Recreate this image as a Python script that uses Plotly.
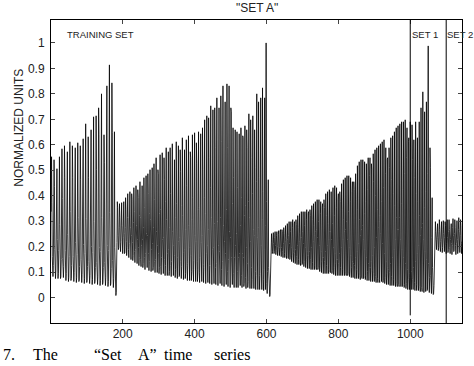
import plotly.graph_objects as go

# Laser intensity samples (8-bit digitiser counts)
burst_1 = [
    86, 141, 95, 41, 22, 21, 32, 72,
    138, 111, 48, 23, 19, 27, 59, 129,
    129, 58, 27, 19, 24, 47, 112, 141,
    73, 30, 19, 21, 38, 91, 149, 99,
    39, 20, 20, 31, 73, 152, 120, 47,
    21, 17, 24, 56, 137, 146, 63, 24,
    16, 20, 41, 110, 156, 86, 30, 17,
    19, 32, 81, 152, 120, 41, 18, 16,
    25, 59, 143, 150, 55, 21, 15, 20,
    43, 121, 155, 80, 27, 16, 17, 31,
    87, 152, 118, 38, 17, 15, 23, 62,
    150, 159, 53, 20, 14, 19, 44, 130,
    174, 79, 26, 15, 17, 31, 92, 161,
    120, 36, 16, 14, 22, 64, 150, 168,
    51, 19, 13, 18, 45, 139, 181, 76,
    24, 14, 16, 30, 96, 182, 128, 35,
    15, 13, 21, 66, 190, 163, 50, 18,
    12, 17, 46, 150, 204, 80, 23, 13,
    15, 30, 101, 163, 135, 35, 14, 12,
    20, 68, 196, 212, 52, 17, 11, 16,
    47, 160, 233, 85, 22, 12, 14, 29,
    105, 215, 165, 37, 13, 10, 19, 70,
    166, 50, 8, 3,
]

burst_2 = [
    2, 5, 18, 55, 96, 90, 62, 48,
    50, 70, 94, 80, 55, 46, 56, 82,
    95, 72, 48, 44, 60, 90, 96, 64,
    44, 45, 70, 100, 88, 56, 42, 50,
    80, 104, 80, 48, 40, 54, 90, 106,
    70, 42, 38, 62, 104, 98, 55, 37,
    42, 75, 110, 86, 46, 35, 48, 92,
    112, 72, 38, 34, 58, 108, 100, 50,
    32, 40, 82, 116, 80, 38, 31, 52,
    104, 112, 58, 30, 34, 70, 120, 90,
    40, 28, 44, 98, 122, 64, 30, 30,
    62, 124, 104, 44, 27, 36, 84, 128,
    78, 33, 26, 48, 112, 130, 54, 27,
    30, 70, 134, 98, 36, 25, 38, 98,
    140, 66, 28, 25, 52, 128, 124, 44,
    24, 30, 84, 143, 88, 31, 23, 40,
    112, 145, 58, 25, 24, 60, 140, 118,
    38, 22, 32, 96, 150, 78, 27, 22,
    44, 126, 146, 48, 22, 26, 70, 150,
    104, 32, 21, 36, 108, 154, 66, 24,
    22, 52, 138, 138, 42, 20, 28, 80,
    156, 94, 29, 19, 40, 120, 152, 56,
    21, 22, 60, 148, 126, 36, 19, 31,
    92, 160, 82, 26, 18, 45, 132, 148,
    48, 19, 24, 68, 158, 112, 32, 17,
    34, 104, 162, 72, 23, 17, 50, 146,
    140, 42, 17, 26, 78, 163, 100, 28,
    16, 37, 116, 165, 62, 21, 16, 56,
    155, 134, 36, 16, 28, 88, 166, 90,
    25, 15, 40, 128, 164, 55, 19, 16,
    62, 170, 128, 33, 15, 30, 100, 178,
    84, 23, 14, 44, 142, 182, 52, 17,
    15, 68, 180, 140, 32, 14, 32, 110,
    192, 80, 21, 13, 48, 158, 188, 50,
    16, 14, 74, 190, 150, 30, 13, 34,
    120, 200, 76, 20, 12, 52, 170, 190,
    46, 15, 14, 80, 202, 156, 28, 12,
    36, 130, 212, 72, 18, 11, 56, 182,
    196, 44, 14, 13, 88, 214, 150, 26,
    11, 38, 140, 212, 66, 16, 10, 60,
    190, 186, 40, 13, 13, 94, 170, 120,
    24, 10, 40, 150, 168, 52, 14, 10,
    64, 166, 110, 26, 10, 40, 156, 164,
    44, 12, 12, 72, 170, 100, 22, 10,
    44, 162, 160, 40, 11, 14, 82, 172,
    92, 20, 9, 50, 168, 150, 34, 10,
    16, 96, 184, 80, 17, 9, 56, 178,
    140, 30, 9, 18, 104, 182, 68, 15,
    9, 62, 168, 130, 26, 8, 22, 116,
    204, 60, 13, 8, 70, 196, 120, 22,
    8, 24, 126, 200, 52, 11, 8, 78,
    210, 106, 18, 7, 28, 140, 200, 48,
    8, 72, 255, 96, 14, 4, 26, 110,
    118, 30, 4, 1, 1, 3, 14, 40,
]

burst_3 = [
    58, 64, 55, 44, 46, 58, 65, 54,
    44, 46, 60, 66, 52, 43, 47, 62,
    66, 51, 42, 48, 63, 67, 50, 42,
    50, 66, 68, 48, 41, 50, 68, 66,
    46, 40, 54, 70, 64, 44, 40, 56,
    72, 60, 42, 39, 59, 74, 58, 40,
    39, 62, 76, 54, 38, 40, 66, 76,
    50, 36, 42, 70, 78, 48, 35, 45,
    74, 76, 44, 34, 48, 78, 73, 41,
    33, 52, 82, 70, 38, 33, 56, 84,
    64, 35, 32, 60, 86, 60, 33, 34,
    66, 86, 54, 31, 36, 72, 86, 50,
    30, 38, 78, 88, 46, 29, 42, 84,
    86, 42, 29, 46, 88, 82, 38, 28,
    50, 92, 78, 35, 28, 56, 94, 72,
    32, 28, 62, 96, 66, 30, 28, 68,
    98, 60, 28, 30, 76, 98, 52, 26,
    32, 84, 96, 46, 25, 36, 90, 94,
    40, 24, 40, 98, 90, 36, 24, 46,
    104, 82, 32, 24, 52, 106, 74, 28,
    24, 58, 108, 66, 26, 25, 66, 106,
    58, 24, 27, 74, 110, 50, 23, 30,
    82, 112, 44, 22, 34, 90, 110, 38,
    22, 38, 98, 104, 34, 22, 44, 106,
    96, 30, 22, 50, 114, 88, 28, 22,
    58, 118, 78, 26, 22, 66, 120, 68,
    24, 22, 76, 122, 58, 22, 24, 86,
    122, 50, 21, 26, 96, 120, 42, 20,
    30, 106, 116, 36, 20, 34, 116, 108,
    32, 19, 40, 124, 98, 28, 19, 46,
    132, 88, 25, 19, 54, 136, 78, 22,
    18, 62, 138, 68, 20, 19, 72, 138,
    58, 19, 20, 84, 136, 48, 18, 22,
    96, 134, 40, 17, 26, 108, 140, 34,
    17, 30, 122, 140, 30, 16, 36, 134,
    128, 27, 16, 42, 144, 116, 24, 16,
    50, 148, 102, 21, 15, 60, 150, 88,
    19, 15, 70, 152, 76, 18, 15, 82,
    154, 64, 16, 16, 96, 156, 54, 15,
    17, 110, 158, 44, 14, 20, 124, 150,
    36, 13, 24, 138, 140, 30, 13, 28,
    150, 130, 25, 12, 34, 160, 118, 21,
    12, 40, 162, 104, 18, 12, 48, 166,
    92, 16, 11, 58, 170, 80, 14, 11,
    68, 172, 68, 13, 11, 80, 174, 58,
    12, 11, 94, 176, 48, 11, 12, 108,
    176, 40, 10, 13, 124, 178, 34, 9,
    14, 140, 170, 28, 8, 18, 156, 160,
    24, 8, 20, 176, 150, 20, 8, 26,
    173, 138, 18, 8, 30, 158, 120, 15,
    7, 36, 176, 104, 13, 7, 44, 160,
    96, 12, 7, 52, 176, 82, 11, 6,
    62, 190, 70, 10, 6, 74, 206, 58,
    9, 5, 90, 186, 46, 8, 6, 106,
    196, 38, 7, 8, 124, 252, 34, 6,
    5, 20, 150, 130, 22, 5, 4, 60,
    100, 30, 6, 3, 4, 12, 40, 66,
]

tail = [
    70, 76, 66, 52, 48, 58, 72, 74,
    60, 47, 50, 66, 78, 68, 50, 46,
    56, 74, 76, 58, 45, 50, 68, 77,
    64, 48, 46, 60, 76, 72, 52, 44,
    54, 72, 78, 60, 45, 48, 66, 78,
    68, 50, 44, 58, 74, 74, 54, 43,
    52, 70, 79, 62, 46, 47, 64, 78,
    70, 52, 43, 54, 74, 77, 58, 44,
    48, 68, 80, 66, 47, 45, 62, 78,
    72, 54, 44, 56,
]

full_scale = 255
x_ticks = [200, 400, 600, 800, 1000]
y_ticks = [0, 0.1, 0.2, 0.3, 0.4, 0.5, 0.6, 0.7, 0.8, 0.9, 1]
y_tick_text = ["0", "0.1", "0.2", "0.3", "0.4", "0.5", "0.6", "0.7", "0.8", "0.9", "1"]
set_bounds = [1000, 1100]
set_labels = ["TRAINING SET", "SET 1", "SET 2"]
set_label_x = [41, 1003, 1100]
caption_words = ["7.", "The", "\u201cSet", "A\u201d", "time", "series"]
caption_px = [2, 32, 93, 137, 163, 213]

counts = burst_1 + burst_2 + burst_3 + tail
time_steps = list(range(1, len(counts) + 1))
values = [c / full_scale for c in counts]

font_family = "Liberation Sans, Arial, sans-serif"
ink = "#222222"
W, H = 474, 366
ML, MR, MT, MB = 51, 12, 20, 43

fig = go.Figure()
fig.add_trace(go.Scatter(
    x=time_steps, y=values, mode="lines",
    line=dict(color="black", width=0.8),
    hoverinfo="skip", showlegend=False,
))

shapes = []
for b in set_bounds:
    shapes.append(dict(type="line", xref="x", yref="y", x0=b, x1=b,
                       y0=-0.1 if b == set_bounds[1] else -0.07, y1=1.09,
                       line=dict(color="black", width=1)))

annotations = []
for lab, lx in zip(set_labels, set_label_x):
    annotations.append(dict(x=lx, y=1.035, xref="x", yref="y", text=lab,
                            showarrow=False, xanchor="left", yanchor="middle",
                            borderpad=0,
                            font=dict(family=font_family, size=9.5, color=ink)))
annotations.append(dict(x=-0.08, y=0.645, xref="paper", yref="paper",
                        text="NORMALIZED UNITS", textangle=-90, showarrow=False,
                        xanchor="center", yanchor="middle",
                        font=dict(family=font_family, size=12, color=ink)))
annotations.append(dict(x=0.5, y=1.0, xref="paper", yref="paper",
                        text="\"SET A\"", showarrow=False, xanchor="center",
                        yanchor="bottom", yshift=3,
                        font=dict(family=font_family, size=12, color=ink)))
pw = W - ML - MR
for word, px in zip(caption_words, caption_px):
    annotations.append(dict(x=(px - ML) / pw, y=0, xref="paper", yref="paper",
                            text=word, showarrow=False, xanchor="left",
                            yanchor="top", yshift=-22, borderpad=0,
                            font=dict(family="Liberation Serif, Times New Roman, serif",
                                      size=16, color="black")))

fig.update_layout(
    width=W, height=H,
    margin=dict(l=ML, r=MR, t=MT, b=MB),
    paper_bgcolor="white", plot_bgcolor="white",
    shapes=shapes, annotations=annotations,
    font=dict(family=font_family, size=12, color=ink),
)
fig.update_xaxes(
    range=[0.5, 1144], tickvals=x_ticks, ticks="inside", ticklen=4,
    showline=True, linecolor="black", linewidth=1, mirror="allticks",
    showgrid=False, zeroline=False, tickfont=dict(size=12, color=ink),
)
fig.update_yaxes(
    range=[-0.1, 1.09], tickvals=y_ticks, ticktext=y_tick_text,
    ticks="inside", ticklen=4, ticklabelstandoff=3,
    showline=True, linecolor="black", linewidth=1, mirror="allticks",
    showgrid=False, zeroline=False, tickfont=dict(size=12, color=ink),
)

fig.write_html(
    "out.html",
    config={"displayModeBar": False},
    post_script="document.body.style.margin='0px';document.body.style.overflow='hidden';",
)
